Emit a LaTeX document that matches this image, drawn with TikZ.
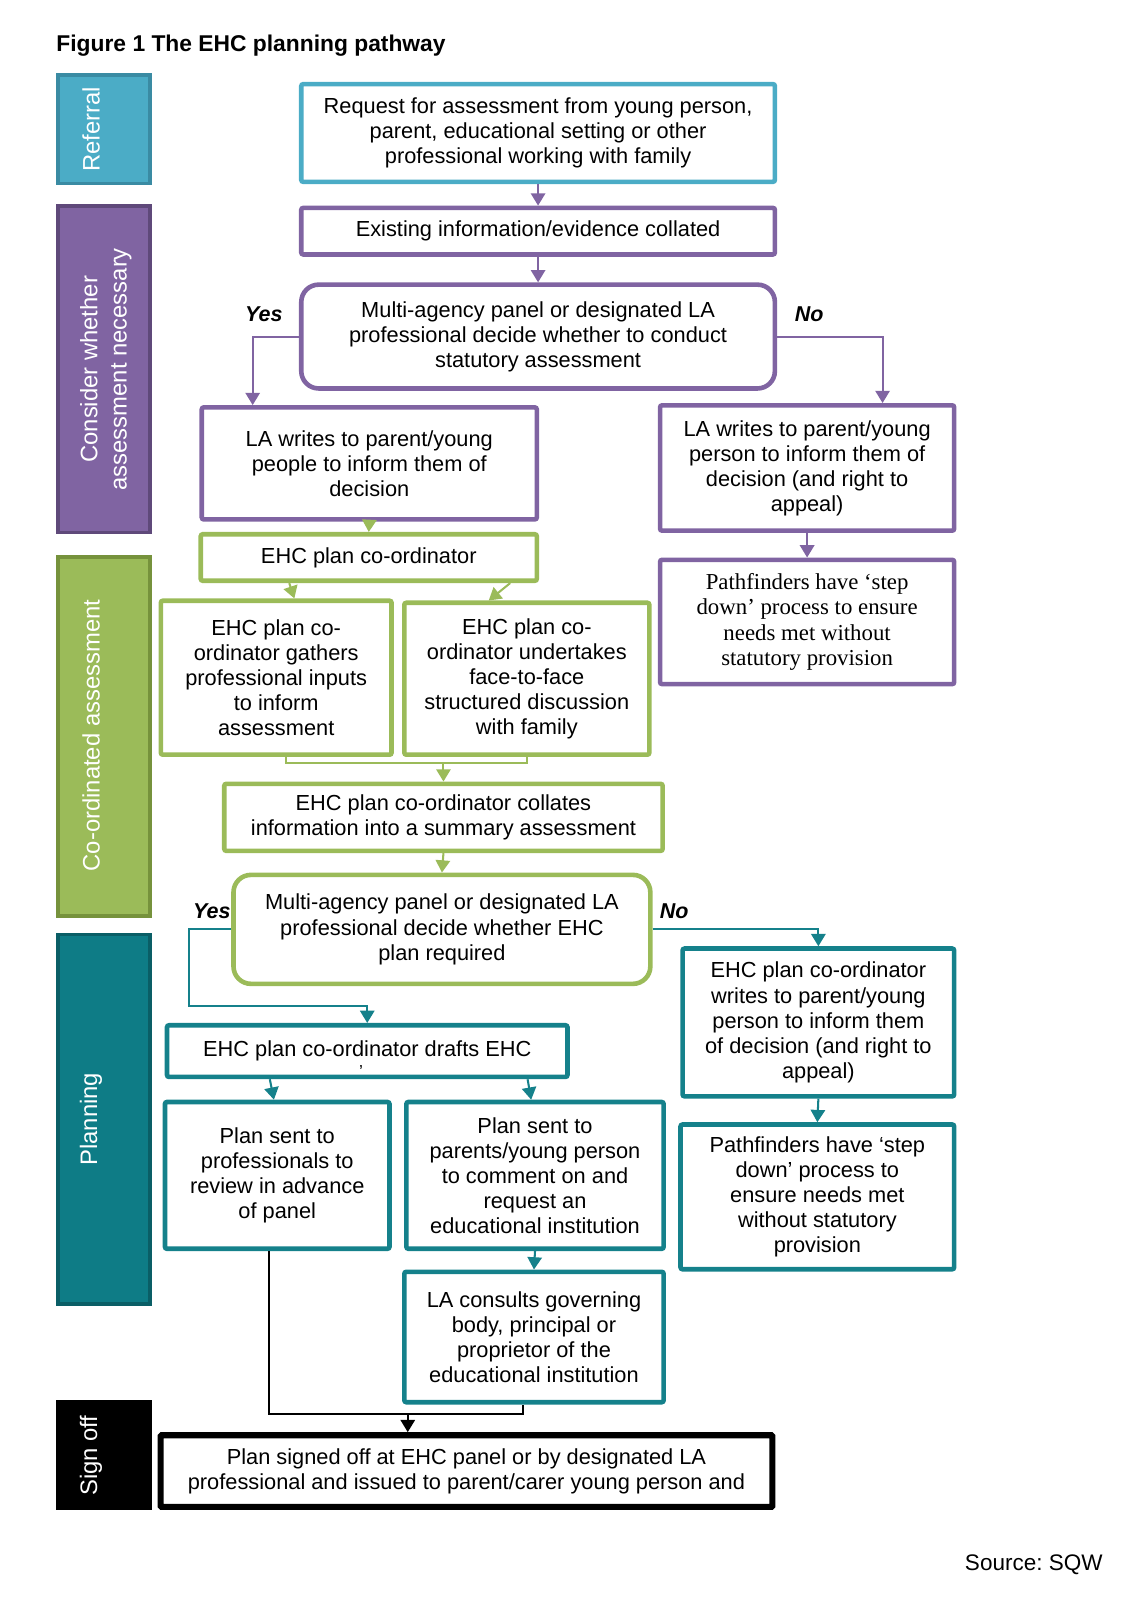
\documentclass[tikz,border=0pt]{standalone}
\usepackage{fontspec}
\setmainfont{Liberation Sans}
\newfontfamily\serifface{Liberation Serif}
\usetikzlibrary{arrows.meta,calc}
\definecolor{cyanL}{HTML}{4BACC6}
\definecolor{cyanD}{HTML}{3A8BA3}
\definecolor{purp}{HTML}{8064A2}
\definecolor{purpD}{HTML}{5F497A}
\definecolor{grn}{HTML}{9BBB59}
\definecolor{grnD}{HTML}{76923C}
\definecolor{tealF}{HTML}{0E7C86}
\definecolor{tealD}{HTML}{0A5E66}
\definecolor{tealB}{HTML}{15818B}
\newcommand\boxfont{\fontsize{21.3}{24.5}\selectfont}
\newcommand\serfont{\serifface\fontsize{22.3}{24.7}\selectfont}
\newcommand\lanefont{\fontsize{23.3}{28.5}\selectfont}
\newcommand\lblfont{\fontsize{21}{24}\selectfont\bfseries\itshape}
\frenchspacing
\begin{document}
\begin{tikzpicture}[x=1pt,y=-1pt,
  box/.style={draw=#1, line width=4.5pt, fill=white, rounded corners=2pt, align=center, inner sep=0pt, font=\boxfont, text=black},
  dec/.style={box=#1, rounded corners=17pt},
  lane/.style={fill=#1, line width=3.5pt, inner sep=0pt},
  lanetext/.style={rotate=90, text=white, font=\lanefont, align=center, inner sep=0pt},
  arr/.style={draw=#1, line width=2pt, -{Triangle[width=14pt,length=12pt]}},
  conn/.style={draw=#1, line width=2pt},
  lbl/.style={font=\lblfont, inner sep=0pt}]
\useasboundingbox (0,0) rectangle (1097,1568);

% title
\node[anchor=base west, inner sep=0pt, font=\fontsize{22.3}{26}\selectfont\bfseries] (title) at (55,50.5) {Figure 1 The EHC planning pathway};

% lanes
\node[lane=cyanL, draw=cyanD, minimum width=90, minimum height=106] (L1) at (101.5,126.5) {};
\node[lanetext] (L1t) at (89,126.5) {Referral};
\node[lane=purp, draw=purpD, minimum width=90, minimum height=319] (L2) at (101.5,361) {};
\node[lanetext] (L2t) at (103.5,361) {Consider whether\\assessment necessary};
\node[lane=grn, draw=grnD, minimum width=90, minimum height=351] (L3) at (101.5,720) {};
\node[lanetext] (L3t) at (89,719) {Co-ordinated assessment};
\node[lane=tealF, draw=tealD, minimum width=90, minimum height=361] (L4) at (101.5,1094) {};
\node[lanetext] (L4t) at (89,1094) {Planning};
\node[lane=black, draw=black, minimum width=90, minimum height=104] (L5) at (101.5,1422.5) {};
\node[lanetext] (L5t) at (89,1423) {Sign off};

% boxes
\node[box=cyanL, minimum width=463, minimum height=95.5] (b1) at (526,130) {Request for assessment from young person,\\parent, educational setting or other\\professional working with family};
\node[box=purp, minimum width=463, minimum height=45.5] (b2) at (526,226) {Existing information/evidence collated};
\node[dec=purp, minimum width=463, minimum height=101.5] (b3) at (526,329) {Multi-agency panel or designated LA\\professional decide whether to conduct\\statutory assessment};
\node[box=purp, minimum width=327.5, minimum height=109.5] (b4) at (361,453) {LA writes to parent/young\\people to inform them of\\decision};
\node[box=purp, minimum width=287.5, minimum height=122.5] (b5) at (789,457.5) {LA writes to parent/young\\person to inform them of\\decision (and right to\\appeal)};
\node[box=grn, minimum width=328.5, minimum height=45.5] (b6) at (360.5,545) {EHC plan co-ordinator};
\node[box=purp, minimum width=287.5, minimum height=121.5, font=\serfont] (b7) at (789,608) {Pathfinders have ‘step\\down’ process to ensure\\needs met without\\statutory provision};
\node[box=grn, minimum width=225.5, minimum height=150.5] (b8) at (270,662.5) {EHC plan co-\\ordinator gathers\\professional inputs\\to inform\\assessment};
\node[box=grn, minimum width=239.5, minimum height=148.5] (b9) at (515,663.5) {EHC plan co-\\ordinator undertakes\\face-to-face\\structured discussion\\with family};
\node[box=grn, minimum width=428.5, minimum height=65.5] (b10) at (433.5,799) {EHC plan co-ordinator collates\\information into a summary assessment};
\node[dec=grn, minimum width=407.5, minimum height=106.5] (b11) at (432,908.5) {Multi-agency panel or designated LA\\professional decide whether EHC\\plan required};
\node[box=tealB, minimum width=391.5, minimum height=50.5] (b12) at (359,1027.5) {EHC plan co-ordinator drafts EHC};
\node[inner sep=0pt, font=\fontsize{17}{17}\selectfont] (b12m) at (353,1047) {'};
\node[box=tealB, minimum width=265.5, minimum height=144.5] (b13) at (800,999.5) {EHC plan co-ordinator\\writes to parent/young\\person to inform them\\of decision (and right to\\appeal)};
\node[box=tealB, minimum width=267.5, minimum height=141.5] (b14) at (799,1170) {Pathfinders have ‘step\\down’ process to\\ensure needs met\\without statutory\\provision};
\node[box=tealB, minimum width=219.5, minimum height=143.5] (b15) at (271,1149) {Plan sent to\\professionals to\\review in advance\\of panel};
\node[box=tealB, minimum width=251.5, minimum height=143.5] (b16) at (523,1149) {Plan sent to\\parents/young person\\to comment on and\\request an\\educational institution};
\node[box=tealB, minimum width=253.5, minimum height=127.5] (b17) at (522,1307) {LA consults governing\\body, principal or\\proprietor of the\\educational institution};
\node[box=black, line width=6pt, rounded corners=1pt, minimum width=598, minimum height=70] (b18) at (456,1438) {Plan signed off at EHC panel or by designated LA\\professional and issued to parent/carer young person and};

% labels
\node[lbl] (yes1) at (258,307) {Yes};
\node[lbl] (no1) at (791,307) {No};
\node[lbl] (yes2) at (207,891) {Yes};
\node[lbl] (no2) at (659,891) {No};
\node[anchor=base east, inner sep=0pt, font=\fontsize{22}{26}\selectfont] (src) at (1078,1535) {Source: SQW};

% connectors
\draw[arr=purp] (b1.south) -- (b2.north);
\draw[arr=purp] (b2.south) -- (b3.north);
\draw[arr=purp] (b3.west) -| ([xshift=52pt]b4.north west);
\draw[arr=purp] (b3.east) -| ([xshift=219.75pt]b5.north west);
\draw[arr=grn] (b4.south) -- (b6.north);
\draw[arr=purp] (b5.south) -- (b7.north);
\draw[arr=grn] ([xshift=88.75pt]b6.south west) -- ([xshift=132.75pt]b8.north west);
\draw[arr=grn] ([xshift=304.75pt]b6.south west) -- ([xshift=84.75pt]b9.north west);
\coordinate (j1) at (433.5,745.5);
\draw[conn=grn] ([xshift=10pt]b8.south) |- (j1) -| (b9.south);
\draw[arr=grn] (j1) -- (b10.north);
\draw[arr=grn] (b10.south) -- (b11.north);
\coordinate (ya) at (185,983);
\draw[arr=tealB] (b11.west) -| (ya) -| (b12.north);
\draw[arr=tealB] (b11.east) -| (b13.north);
\draw[arr=tealB] ([xshift=102.75pt]b12.south west) -- ([xshift=108.75pt]b15.north west);
\draw[arr=tealB] ([xshift=354.75pt]b12.south west) -- ([xshift=124.25pt]b16.north west);
\draw[arr=tealB] (b13.south) -- (b14.north);
\draw[arr=tealB] (b16.south) -- (b17.north);
\coordinate (j2) at (398.6,1382);
\draw[conn=black] ([xshift=-8pt]b15.south) |- (j2) -| ([xshift=-10.4pt]b17.south);
\draw[arr=black] (j2) -- (b18.north -| j2);
\end{tikzpicture}
\end{document}
